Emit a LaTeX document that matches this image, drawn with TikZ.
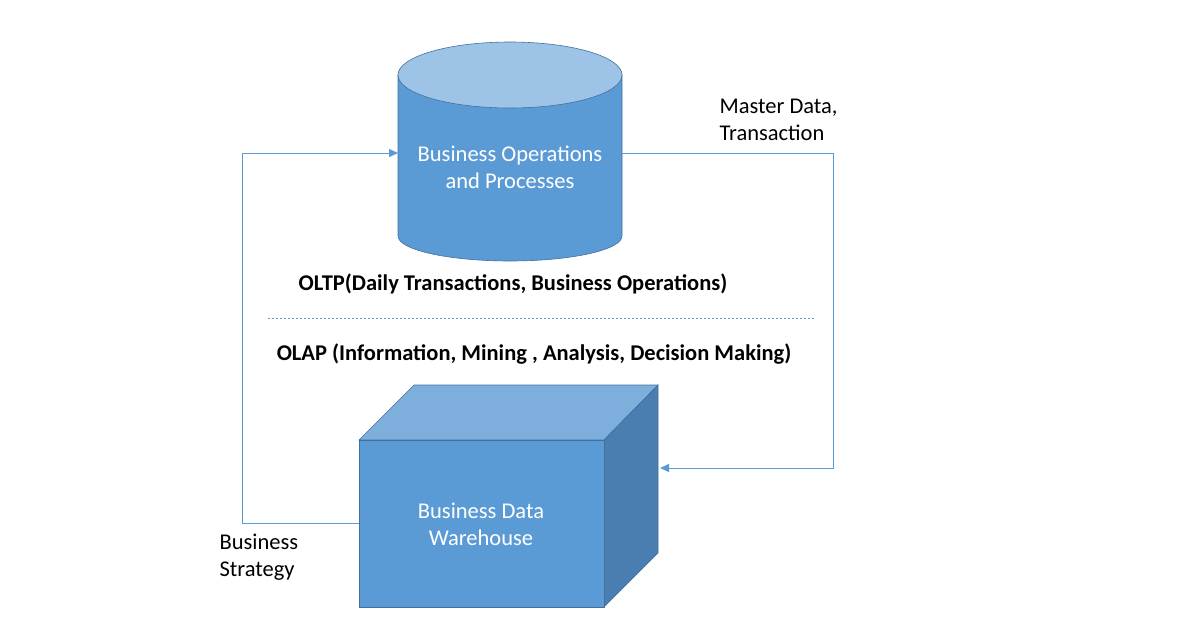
\documentclass[tikz,border=0pt]{standalone}
\usepackage{fontspec}
\setmainfont{Carlito}
\usetikzlibrary{arrows.meta}
\definecolor{front}{HTML}{5B9BD5}
\definecolor{topc}{HTML}{7EAEDC}
\definecolor{side}{HTML}{4A7EB0}
\definecolor{cyltop}{HTML}{9DC3E6}
\definecolor{edge}{HTML}{41719C}
\begin{document}
\begin{tikzpicture}[x=1pt,y=-1pt,
  lbl/.style={font=\fontsize{22.5}{27}\selectfont, align=center},
  blbl/.style={font=\fontsize{22.5}{27}\selectfont\bfseries},
  conn/.style={draw=front, line width=0.8pt, -{Triangle[length=9pt,width=8pt]}}]
\useasboundingbox (0,0) rectangle (1200,630);
% cylinder
\fill[front, draw=edge, line width=0.6pt] (398,75) -- (398,236) arc[start angle=180,end angle=0,x radius=112,y radius=25] -- (622,75) -- cycle;
\fill[cyltop, draw=edge, line width=0.6pt] (510,75) ellipse[x radius=112,y radius=33];
\node[lbl, text=white] (cyl) at (510,167) {Business Operations\\and Processes};
\coordinate (cylL) at (398,153);
\coordinate (cylR) at (622,153);
% cube
\fill[topc, draw=edge, line width=0.6pt] (359,440) -- (414,385) -- (658,385) -- (604,440) -- cycle;
\fill[side, draw=edge, line width=0.6pt] (604,440) -- (658,385) -- (658,553) -- (604,607) -- cycle;
\fill[front, draw=edge, line width=0.6pt] (359,440) rectangle (604,607);
\node[lbl, text=white] (cube) at (481,524) {Business Data\\Warehouse};
\coordinate (cubeL) at (359,523);
\coordinate (cubeR) at (660,468);
% connectors
\coordinate (bl) at (242,523);
\coordinate (tl) at (242,153);
\coordinate (tr) at (833,153);
\coordinate (br) at (833,468);
\draw[conn] (cubeL) -- (bl) -- (tl) -- (cylL);
\draw[conn] (cylR) -- (tr) -- (br) -- (cubeR);
% dashed line
\coordinate (d1) at (268,318);
\coordinate (d2) at (815,318);
\draw[front, dash pattern=on 2pt off 2pt, line width=0.6pt] (d1) -- (d2);
% labels
\node[blbl] (oltp) at (513,284) {OLTP(Daily Transactions, Business Operations)};
\node[blbl] (olap) at (534,354) {OLAP (Information, Mining , Analysis, Decision Making)};
\node[lbl, align=left, anchor=west] (md) at (716,120) {Master Data,\\Transaction};
\node[lbl, align=left, anchor=west] (bs) at (216,557) {Business\\Strategy};
\end{tikzpicture}
\end{document}
